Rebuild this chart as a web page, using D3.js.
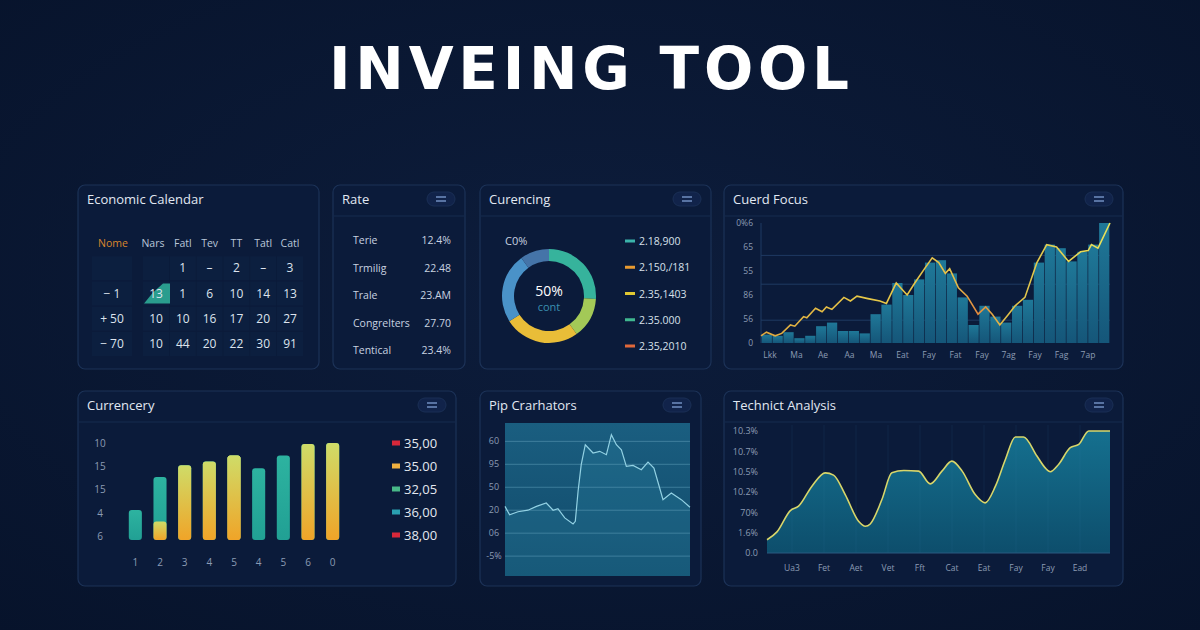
<!DOCTYPE html>
<meta charset="utf-8">
<script src="https://d3js.org/d3.v7.min.js"></script>
<style>
  body { margin: 0; background: #0a1834; }
  text { font-family: "Open Sans", "Noto Sans", sans-serif; }
  .ptitle { font-size: 13px; fill: #e1e8f2; }
  .tick-lbl { font-size: 8.5px; fill: #8b9bb4; }
</style>
<div id="dash"></div>
<script>

// ---- data ----
var calCols = ["Nome", "Nars", "Fatl", "Tev", "TT", "Tatl", "Catl"];
var calRows = [
  ["", "", "1", "–", "2", "–", "3"],
  ["− 1", "13", "1", "6", "10", "14", "13"],
  ["+ 50", "10", "10", "16", "17", "20", "27"],
  ["− 70", "10", "44", "20", "22", "30", "91"]
];
var calHighlight = {row: 1, col: 1};

var rateLabels = ["Terie", "Trmilig", "Trale", "Congrelters", "Tentical"];
var rateValues = ["12.4%", "22.48", "23.AM", "27.70", "23.4%"];

var donutValues = [26, 14, 26, 24, 10];
var donutColors = ["#36b39c", "#a3c957", "#e9bd38", "#4a92c8", "#4574a8"];
var donutLegend = ["2.18,900", "2.150,/181", "2.35,1403", "2.35.000", "2.35,2010"];
var donutLegendColors = ["#3bb3aa", "#e89a30", "#e0c832", "#40b890", "#e0683a"];

var focusBars = [7, 6, 9, 4, 6, 14, 17, 10, 10, 8, 24, 32, 50, 40, 53, 67, 69, 58, 38, 15, 31, 22, 17, 31, 36, 67, 82, 79, 68, 76, 82, 100];
var focusLineX = [0, 0.5, 1.3, 1.9, 2.7, 3.1, 3.9, 4.2, 5.0, 5.6, 6.0, 6.5, 7.6, 8.2, 8.8, 9.8, 10.9, 11.5, 12.4, 13.4, 14.1, 15.0, 15.7, 16.3, 16.9, 17.3, 18.1, 18.9, 19.9, 20.6, 21.2, 21.9, 22.7, 23.3, 24.2, 25.3, 26.2, 27.1, 28.2, 29.3, 30.0, 30.3, 30.9, 32.0];
var focusLineY = [6, 9, 6, 8, 15, 14, 22, 21, 29, 26, 30, 28, 38, 35, 39, 37, 35, 33, 50, 40, 50, 62, 71, 67, 58, 62, 46, 39, 24, 30, 24, 15, 24, 31, 38, 67, 82, 80, 68, 76, 77, 82, 79, 100];
var focusYTicks = [0, 20, 40, 60, 80, 100];
var focusYLabels = ["0", "56", "86", "55", "65", "0%6"];
var focusGrid = [19, 49, 73];
var focusXLabels = ["Lkk", "Ma", "Ae", "Aa", "Ma", "Eat", "Fay", "Fat", "Fay", "7ag", "Fay", "Fag", "7ap"];

var curTotal = [31, 65, 77, 81, 87, 74, 87, 99, 100];
var curWarm = [0, 19, 77, 81, 87, 0, 87, 99, 100];
var curXLabels = ["1", "2", "3", "4", "5", "4", "5", "6", "0"];
var curYTicks = [100, 76, 52, 28, 4];
var curYLabels = ["10", "15", "15", "4", "6"];
var curLegend = ["35,00", "35.00", "32,05", "36,00", "38,00"];
var curLegendColors = ["#d8283a", "#f0b040", "#48b888", "#2aa0b0", "#d8283a"];

var pipX = [0, 2.5, 7, 12.4, 17, 22.3, 26, 28.6, 32.3, 36.8, 38, 39.5, 41.2, 43.4, 47.6, 51.2, 54.8, 57.5, 60.2, 62.9, 65.6, 69.2, 73.7, 77.3, 80.5, 83.6, 85.4, 89.9, 95.3, 100];
var pipY = [45.5, 40, 42, 43, 45.5, 47.7, 43, 44, 38, 34, 35.7, 55.4, 72.8, 85.8, 80.4, 81.5, 79.3, 92.4, 85.8, 82.5, 71.7, 72.3, 69.5, 74.5, 70.6, 57.5, 49.9, 54.2, 49.9, 44.9];
var pipGrid = [88, 73, 58, 43, 28, 13];
var pipLabels = ["60", "95", "50", "20", "06", "-5%"];

var techX = [0, 2.9, 6.8, 9.2, 13.1, 17, 19.4, 22.8, 26.7, 28.7, 30.1, 33.5, 36.4, 39.9, 44.2, 47.6, 51, 53.9, 56.9, 60.7, 63.6, 66.6, 69.5, 72.4, 74.8, 78.7, 81.1, 82.6, 85, 88.4, 90.9, 93.8, 100];
var techY = [10.9, 17.3, 34.8, 38.4, 54.8, 65.7, 63.8, 47.9, 26, 21.9, 23.8, 43.8, 65.7, 67.6, 67.1, 56.7, 67.1, 75.3, 67.1, 47.9, 41.1, 54.8, 76.7, 95.1, 95.1, 79.5, 69.8, 66.6, 72.6, 86.3, 89, 100, 100];
var techYTicks = [100, 83.3, 66.7, 50, 33.3, 16.7, 0];
var techYLabels = ["10.3%", "10.7%", "10.5%", "10.2%", "70%", "1.6%", "0.0"];
var techXLabels = ["Ua3", "Fet", "Aet", "Vet", "Fft", "Cat", "Eat", "Fay", "Fay", "Ead"];

// ---- canvas ----
var svg = d3.select("#dash").append("svg").attr("width", 1200).attr("height", 630);
var defs = svg.append("defs");

var bg = defs.append("radialGradient").attr("id", "bg").attr("cx", "50%").attr("cy", "45%").attr("r", "75%");
bg.append("stop").attr("offset", "0%").attr("stop-color", "#0d1d3c");
bg.append("stop").attr("offset", "100%").attr("stop-color", "#07132b");
svg.append("rect").attr("width", 1200).attr("height", 630).attr("fill", "url(#bg)");

function vgrad(id, top, bottom) {
  var g = defs.append("linearGradient").attr("id", id).attr("x1", 0).attr("y1", 0).attr("x2", 0).attr("y2", 1);
  g.append("stop").attr("offset", "0%").attr("stop-color", top);
  g.append("stop").attr("offset", "100%").attr("stop-color", bottom);
}
vgrad("warm", "#cfdc68", "#f0a428");
vgrad("teal", "#2db3a0", "#21a094");
vgrad("focusBar", "#1f7898", "#155679");
vgrad("pipBg", "#1a5e80", "#114a6a");
vgrad("techArea", "#15708f", "#0d4e6c");

// title
svg.append("text")
  .attr("x", 589).attr("y", 89)
  .attr("text-anchor", "middle")
  .attr("textLength", 520).attr("lengthAdjust", "spacing")
  .style("font-family", "'DejaVu Sans', sans-serif")
  .style("font-size", "58px").style("font-weight", 700).style("fill", "#ffffff")
  .text("INVEING TOOL");

// panel frame helper
function panel(x, y, w, h, title, menu, divider) {
  var g = svg.append("g").attr("transform", "translate(" + x + "," + y + ")");
  g.append("rect").attr("width", w).attr("height", h).attr("rx", 7)
    .attr("fill", "#0b1b3a").attr("stroke", "#1c3257").attr("stroke-width", 1.2);
  g.append("text").attr("class", "ptitle").attr("x", 9).attr("y", 19).text(title);
  if (divider) {
    g.append("line").attr("x1", 1).attr("x2", w - 1).attr("y1", 31).attr("y2", 31)
      .attr("stroke", "#172c4e").attr("stroke-width", 1);
  }
  if (menu) {
    var m = g.append("g").attr("transform", "translate(" + (w - 24) + ",14)");
    m.append("rect").attr("x", -14).attr("y", -7).attr("width", 28).attr("height", 14).attr("rx", 7)
      .attr("fill", "#11234a").attr("stroke", "#1a2f55");
    [-2, 2].forEach(function(d) {
      m.append("line").attr("x1", -5).attr("x2", 5).attr("y1", d).attr("y2", d)
        .attr("stroke", "#7f9fd4").attr("stroke-width", 1.3);
    });
  }
  return g;
}

panel(78, 185, 241, 184, "Economic Calendar", false, false);
panel(333, 185, 132, 184, "Rate", true, true);
panel(480, 185, 231, 184, "Curencing", true, true);
panel(724, 185, 399, 184, "Cuerd Focus", true, true);
panel(78, 391, 378, 195, "Currencery", true, true);
panel(480, 391, 221, 195, "Pip Crarhators", true, false);
panel(724, 391, 399, 195, "Technict Analysis", true, true);

// ---- Economic calendar ----
var calX = d3.scalePoint().domain(d3.range(1, 7)).range([156, 290]);
var calY = d3.scalePoint().domain(d3.range(0, 5)).range([243, 344]);
function calColX(i) { return i === 0 ? 112 : calX(i); }

var cal = svg.append("g");
calRows.forEach(function(row, r) {
  row.forEach(function(v, c) {
    cal.append("rect")
      .attr("x", calColX(c) - (c === 0 ? 20 : 13)).attr("y", calY(r + 1) - 12)
      .attr("width", c === 0 ? 40 : 26).attr("height", 24)
      .attr("fill", "#0f2244").attr("opacity", 0.55);
  });
});
// highlighted cell
var hx = calColX(calHighlight.col), hy = calY(calHighlight.row + 1);
cal.append("path")
  .attr("d", d3.line()([[hx - 12, hy + 10], [hx - 3, hy - 1], [hx + 7, hy - 10], [hx + 14, hy - 10], [hx + 14, hy + 10]]))
  .attr("fill", "#2a9d8e");

cal.selectAll(".hdr").data(calCols).enter().append("text")
  .attr("x", function(d, i) { return i === 0 ? 113 : calX(i) - (i === 1 ? 3 : 0); })
  .attr("y", calY(0) + 4)
  .attr("text-anchor", "middle")
  .style("font-size", "10.5px")
  .style("fill", function(d, i) { return i === 0 ? "#d9862c" : "#b9c6d8"; })
  .text(function(d) { return d; });

calRows.forEach(function(row, r) {
  cal.selectAll(".r" + r).data(row).enter().append("text")
    .attr("x", function(d, c) { return calColX(c); })
    .attr("y", calY(r + 1) + 4)
    .attr("text-anchor", "middle")
    .style("font-size", "12px").style("fill", "#dde4ee")
    .text(function(d) { return d; });
});

// ---- Rate ----
var rateY = d3.scalePoint().domain(d3.range(rateLabels.length)).range([240, 350]);
svg.selectAll(".rl").data(rateLabels).enter().append("text")
  .attr("x", 353).attr("y", function(d, i) { return rateY(i) + 4; })
  .style("font-size", "10.5px").style("fill", "#c8d2e0").text(function(d) { return d; });
svg.selectAll(".rv").data(rateValues).enter().append("text")
  .attr("x", 451).attr("y", function(d, i) { return rateY(i) + 4; })
  .attr("text-anchor", "end")
  .style("font-size", "10.5px").style("fill", "#c8d2e0").text(function(d) { return d; });

// ---- Currencing donut ----
var pie = d3.pie().sort(null)(donutValues);
var arc = d3.arc().innerRadius(35).outerRadius(47);
var dg = svg.append("g").attr("transform", "translate(549,296)");
dg.selectAll("path").data(pie).enter().append("path")
  .attr("d", arc).attr("fill", function(d, i) { return donutColors[i]; });
dg.append("text").attr("y", 0).attr("text-anchor", "middle")
  .style("font-size", "14px").style("fill", "#ffffff").text("50%");
dg.append("text").attr("y", 15).attr("text-anchor", "middle")
  .style("font-size", "11px").style("fill", "#3a8fb0").text("cont");
svg.append("text").attr("x", 505).attr("y", 245)
  .style("font-size", "11px").style("fill", "#c8d2e0").text("C0%");

var dlY = d3.scalePoint().domain(d3.range(donutLegend.length)).range([241, 346]);
svg.selectAll(".dlm").data(donutLegendColors).enter().append("rect")
  .attr("x", 625).attr("y", function(d, i) { return dlY(i) - 1.5; })
  .attr("width", 10).attr("height", 3).attr("fill", function(d) { return d; });
svg.selectAll(".dlt").data(donutLegend).enter().append("text")
  .attr("x", 639).attr("y", function(d, i) { return dlY(i) + 4; })
  .style("font-size", "10.5px").style("fill", "#d8e0ea").text(function(d) { return d; });

// ---- Cuerd Focus ----
var fx = d3.scaleBand().domain(d3.range(focusBars.length)).range([761, 1110]).padding(0.06);
var fxl = d3.scaleLinear().domain([0, 32]).range([761, 1110]);
var fy = d3.scaleLinear().domain([0, 100]).range([343, 223]);
var fg = svg.append("g");
fg.selectAll(".grid").data(focusGrid).enter().append("line")
  .attr("x1", 761).attr("x2", 1110)
  .attr("y1", function(d) { return fy(d); }).attr("y2", function(d) { return fy(d); })
  .attr("stroke", "#1f3a62").attr("stroke-width", 1);
fg.append("line").attr("x1", 761).attr("x2", 761).attr("y1", 223).attr("y2", 343)
  .attr("stroke", "#1f3a62");
fg.selectAll(".bar").data(focusBars).enter().append("rect")
  .attr("x", function(d, i) { return fx(i); })
  .attr("y", function(d) { return fy(d); })
  .attr("width", fx.bandwidth())
  .attr("height", function(d) { return fy(0) - fy(d); })
  .attr("fill", "url(#focusBar)");

var lg = defs.append("linearGradient").attr("id", "focusLine").attr("gradientUnits", "userSpaceOnUse")
  .attr("x1", 761).attr("x2", 1110).attr("y1", 0).attr("y2", 0);
[["0%", "#e0a83f"], ["30%", "#e6c948"], ["55%", "#e3c04a"], ["62%", "#e2893e"], ["70%", "#dfbe48"], ["100%", "#e8e25a"]]
  .forEach(function(s) { lg.append("stop").attr("offset", s[0]).attr("stop-color", s[1]); });
fg.append("path")
  .datum(d3.zip(focusLineX, focusLineY))
  .attr("d", d3.line().x(function(d) { return fxl(d[0]); }).y(function(d) { return fy(d[1]); }))
  .attr("fill", "none").attr("stroke", "url(#focusLine)").attr("stroke-width", 1.6);

fg.append("g").attr("transform", "translate(756,0)")
  .call(d3.axisLeft(fy).tickValues(focusYTicks).tickSize(0)
    .tickFormat(function(d, i) { return focusYLabels[i]; }))
  .call(function(g) { g.select(".domain").remove(); })
  .selectAll("text").attr("class", "tick-lbl");

var fxLab = d3.scalePoint().domain(d3.range(focusXLabels.length)).range([770, 1088]);
fg.selectAll(".xl").data(focusXLabels).enter().append("text")
  .attr("class", "tick-lbl").attr("text-anchor", "middle")
  .attr("x", function(d, i) { return fxLab(i); }).attr("y", 358)
  .text(function(d) { return d; });

// ---- Currencery bars ----
var cx = d3.scaleBand().domain(d3.range(curTotal.length)).range([123, 345]).paddingInner(0.47).paddingOuter(0.235);
var cy = d3.scaleLinear().domain([0, 100]).range([540, 443]);
var cg = svg.append("g");
cg.selectAll(".tb").data(curTotal).enter().append("rect")
  .attr("x", function(d, i) { return cx(i); })
  .attr("y", function(d) { return cy(d); })
  .attr("width", cx.bandwidth())
  .attr("height", function(d) { return cy(0) - cy(d); })
  .attr("rx", 3).attr("fill", "url(#teal)");
cg.selectAll(".wb").data(curWarm).enter().filter(function(d) { return d > 0; }).append("rect")
  .attr("x", function(d) { return cx(curWarm.indexOf(d)); })
  .attr("y", function(d) { return cy(d); })
  .attr("width", cx.bandwidth())
  .attr("height", function(d) { return cy(0) - cy(d); })
  .attr("rx", 3).attr("fill", "url(#warm)");

cg.append("g").attr("transform", "translate(103,0)")
  .call(d3.axisLeft(cy).tickValues(curYTicks).tickSize(0)
    .tickFormat(function(d, i) { return curYLabels[i]; }))
  .call(function(g) { g.select(".domain").remove(); })
  .selectAll("text").attr("text-anchor", "middle").attr("class", "tick-lbl").style("font-size", "10px");

cg.selectAll(".cxl").data(curXLabels).enter().append("text")
  .attr("class", "tick-lbl").attr("text-anchor", "middle").style("font-size", "10px")
  .attr("x", function(d, i) { return cx(i) + cx.bandwidth() / 2; }).attr("y", 566)
  .text(function(d) { return d; });

var clY = d3.scalePoint().domain(d3.range(curLegend.length)).range([443, 535]);
cg.selectAll(".clm").data(curLegendColors).enter().append("rect")
  .attr("x", 392).attr("y", function(d, i) { return clY(i) - 2.5; })
  .attr("width", 8).attr("height", 5).attr("fill", function(d) { return d; });
cg.selectAll(".clt").data(curLegend).enter().append("text")
  .attr("x", 404).attr("y", function(d, i) { return clY(i) + 5; })
  .style("font-size", "13px").style("fill", "#e3e8f0").text(function(d) { return d; });

// ---- Pip chart ----
var px = d3.scaleLinear().domain([0, 100]).range([505, 690]);
var py = d3.scaleLinear().domain([0, 100]).range([576, 423]);
var pg = svg.append("g");
pg.append("rect").attr("x", 505).attr("y", 423).attr("width", 185).attr("height", 153).attr("fill", "url(#pipBg)");
var pipPts = d3.zip(pipX, pipY);
pg.append("path").datum(pipPts)
  .attr("d", d3.area().x(function(d) { return px(d[0]); }).y0(py(0)).y1(function(d) { return py(d[1]); }))
  .attr("fill", "#2b89a8").attr("opacity", 0.25);
pg.selectAll(".pgl").data(pipGrid).enter().append("line")
  .attr("x1", 505).attr("x2", 690)
  .attr("y1", function(d) { return py(d); }).attr("y2", function(d) { return py(d); })
  .attr("stroke", "#5d9bb6").attr("stroke-opacity", 0.55).attr("stroke-width", 1);
pg.append("path").datum(pipPts)
  .attr("d", d3.line().x(function(d) { return px(d[0]); }).y(function(d) { return py(d[1]); }))
  .attr("fill", "none").attr("stroke", "#93d2e4").attr("stroke-width", 1.2);
pg.selectAll(".pl").data(pipLabels).enter().append("text")
  .attr("class", "tick-lbl").attr("text-anchor", "middle").style("font-size", "9px")
  .attr("x", 494).attr("y", function(d, i) { return py(pipGrid[i]) + 3; })
  .text(function(d) { return d; });

// ---- Technic analysis ----
var tx = d3.scaleLinear().domain([0, 100]).range([767, 1110]);
var ty = d3.scaleLinear().domain([0, 100]).range([553, 431]);
var tg = svg.append("g");
var txLab = d3.scalePoint().domain(d3.range(techXLabels.length)).range([792, 1080]);
var techPts = d3.zip(techX, techY);
tg.append("path").datum(techPts)
  .attr("d", d3.area().curve(d3.curveMonotoneX).x(function(d) { return tx(d[0]); }).y0(ty(0)).y1(function(d) { return ty(d[1]); }))
  .attr("fill", "url(#techArea)");
tg.selectAll(".vg").data(techXLabels).enter().append("line")
  .attr("x1", function(d, i) { return txLab(i); }).attr("x2", function(d, i) { return txLab(i); })
  .attr("y1", 425).attr("y2", 553)
  .attr("stroke", "#3f8fb0").attr("stroke-opacity", 0.1);
tg.append("path").datum(techPts)
  .attr("d", d3.line().curve(d3.curveMonotoneX).x(function(d) { return tx(d[0]); }).y(function(d) { return ty(d[1]); }))
  .attr("fill", "none").attr("stroke", "#d8d66a").attr("stroke-width", 1.6);
tg.append("line").attr("x1", 767).attr("x2", 1110).attr("y1", 553).attr("y2", 553)
  .attr("stroke", "#2a5a80");

tg.append("g").attr("transform", "translate(761,0)")
  .call(d3.axisLeft(ty).tickValues(techYTicks).tickSize(0)
    .tickFormat(function(d, i) { return techYLabels[i]; }))
  .call(function(g) { g.select(".domain").remove(); })
  .selectAll("text").attr("class", "tick-lbl").style("font-size", "9px");

tg.selectAll(".txl").data(techXLabels).enter().append("text")
  .attr("class", "tick-lbl").attr("text-anchor", "middle")
  .attr("x", function(d, i) { return txLab(i); }).attr("y", 571)
  .text(function(d) { return d; });

</script>
